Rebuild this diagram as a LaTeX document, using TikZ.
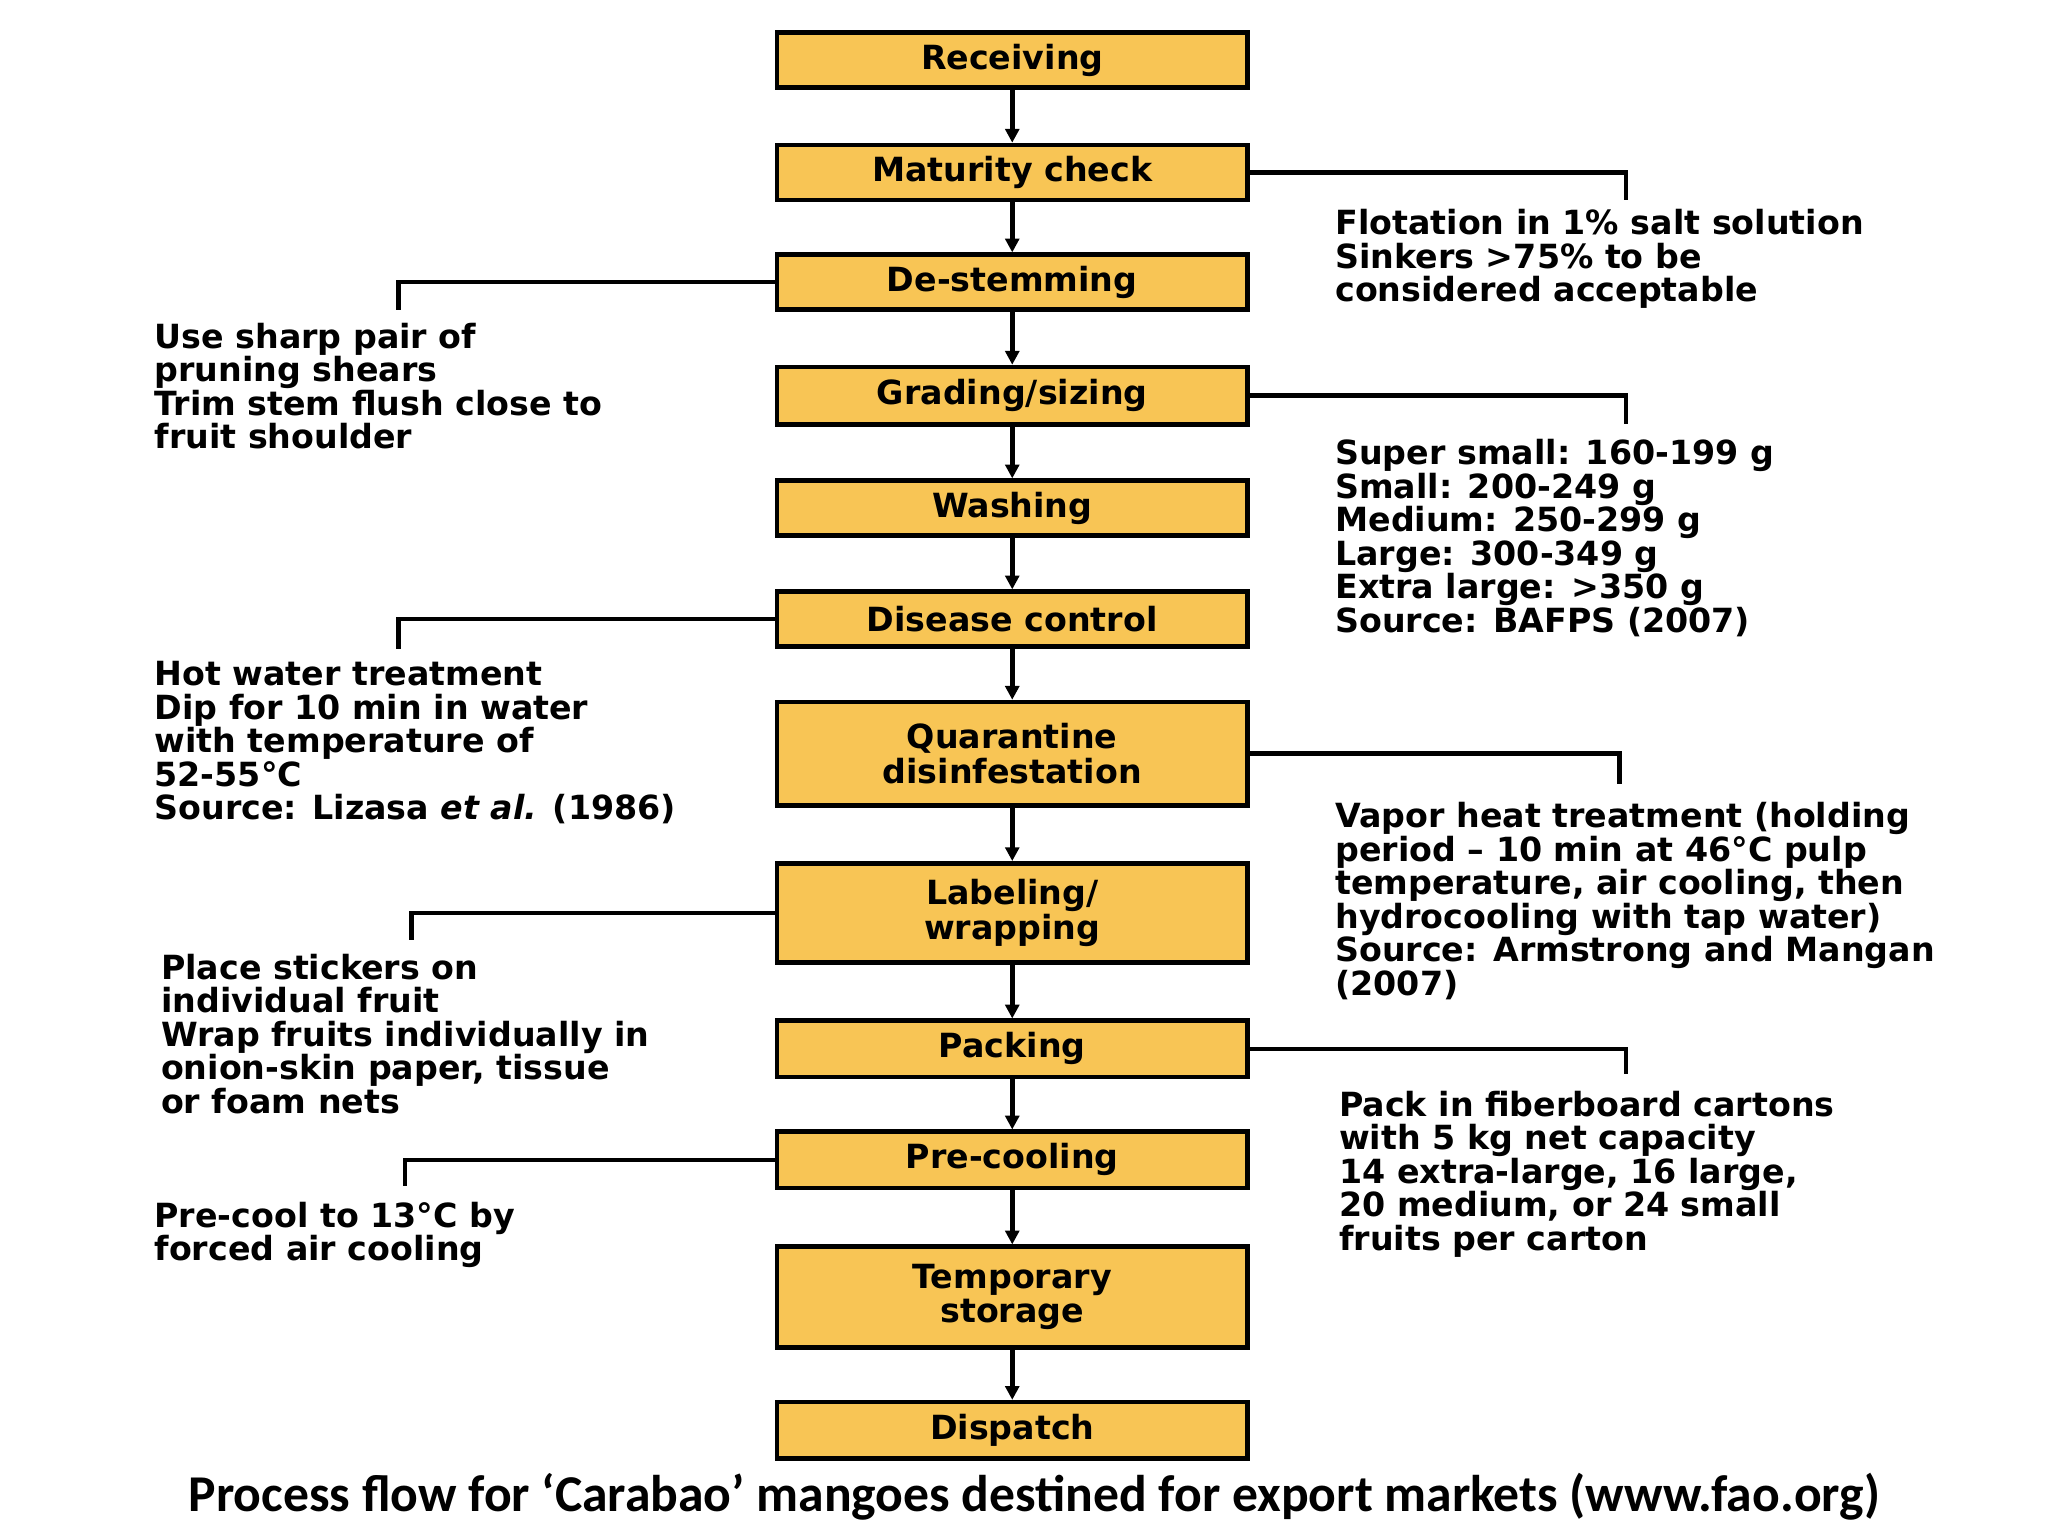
\documentclass[tikz,border=0pt]{standalone}
\usepackage{fontspec}
\setmainfont{DejaVu Sans}
\newfontfamily\capfont{Carlito}
\usetikzlibrary{arrows.meta}
\definecolor{boxfill}{HTML}{F8C555}
\begin{document}
\begin{tikzpicture}[x=0.02cm,y=-0.02cm,
  box/.style={draw=black,line width=2pt,fill=boxfill,minimum width=7.2cm,align=center,font=\bfseries\fontsize{14.5}{15}\selectfont,inner sep=2pt},
  note/.style={anchor=north west,align=left,inner sep=0pt,font=\bfseries\fontsize{14.5}{14.6}\selectfont},
  flow/.style={line width=2pt,-{Triangle[length=6pt,width=6pt]}},
  lead/.style={line width=2pt}]
\useasboundingbox (0,0) rectangle (1568,1176);
\fill[white] (0,0) rectangle (1568,1176);
\node[box,minimum height=0.84cm] (b1) at (775,46) {Receiving};
\node[box,minimum height=0.84cm] (b2) at (775,132) {Maturity check};
\node[box,minimum height=0.84cm] (b3) at (775,216) {De-stemming};
\node[box,minimum height=0.88cm] (b4) at (775,303) {Grading/sizing};
\node[box,minimum height=0.84cm] (b5) at (775,389) {Washing};
\node[box,minimum height=0.84cm] (b6) at (775,474) {Disease control};
\node[box,minimum height=1.58cm] (b7) at (775,577) {Quarantine\\disinfestation};
\node[box,minimum height=1.52cm] (b8) at (775,699) {Labeling/\\wrapping};
\node[box,minimum height=0.86cm] (b9) at (775,803) {Packing};
\node[box,minimum height=0.86cm] (b10) at (775,888) {Pre-cooling};
\node[box,minimum height=1.54cm] (b11) at (775,993) {Temporary\\storage};
\node[box,minimum height=0.86cm] (b12) at (775,1095) {Dispatch};
\foreach \a/\b in {b1/b2,b2/b3,b3/b4,b4/b5,b5/b6,b6/b7,b7/b8,b8/b9,b9/b10,b10/b11,b11/b12}
  \draw[flow] (\a) -- (\b);
\coordinate (c2) at (1245,153);
\coordinate (c3) at (305,237);
\coordinate (c4) at (1245,325);
\coordinate (c6) at (305,497);
\coordinate (c7) at (1240,600);
\coordinate (c8) at (315,720);
\coordinate (c9) at (1245,822);
\coordinate (c10) at (310,908);
\draw[lead] (b2.east) -| (c2);
\draw[lead] (b3.west) -| (c3);
\draw[lead] (b4.east) -| (c4);
\draw[lead] (b6.west) -| (c6);
\draw[lead] (b7.east) -| (c7);
\draw[lead] (b8.west) -| (c8);
\draw[lead] (b9.east) -| (c9);
\draw[lead] (b10.west) -| (c10);
\node[note] (n2) at (1022,160) {Flotation in 1\% salt solution\\Sinkers >75\% to be\\considered acceptable};
\node[note] (n3) at (118,247) {Use sharp pair of\\pruning shears\\Trim stem flush close to\\fruit shoulder};
\node[note] (n4) at (1022,336) {Super small: 160-199 g\\Small: 200-249 g\\Medium: 250-299 g\\Large: 300-349 g\\Extra large: >350 g\\Source: BAFPS (2007)};
\node[note] (n6) at (118,506) {Hot water treatment\\Dip for 10 min in water\\with temperature of\\52-55\textdegree C\\Source: Lizasa \textit{et al.} (1986)};
\node[note] (n7) at (1022,614) {Vapor heat treatment (holding\\period -- 10 min at 46\textdegree C pulp\\temperature, air cooling, then\\hydrocooling with tap water)\\Source: Armstrong and Mangan\\(2007)};
\node[note] (n8) at (123,730) {Place stickers on\\individual fruit\\Wrap fruits individually in\\onion-skin paper, tissue\\or foam nets};
\node[note] (n9) at (1025,835) {Pack in fiberboard cartons\\with 5 kg net capacity\\14 extra-large, 16 large,\\20 medium, or 24 small\\fruits per carton};
\node[note] (n10) at (118,920) {Pre-cool to 13\textdegree C by\\forced air cooling};
\node[font=\capfont\bfseries\fontsize{22.5}{25}\selectfont] (cap) at (792,1146) {Process flow for ‘Carabao’ mangoes destined for export markets (www.fao.org)};
\end{tikzpicture}
\end{document}
